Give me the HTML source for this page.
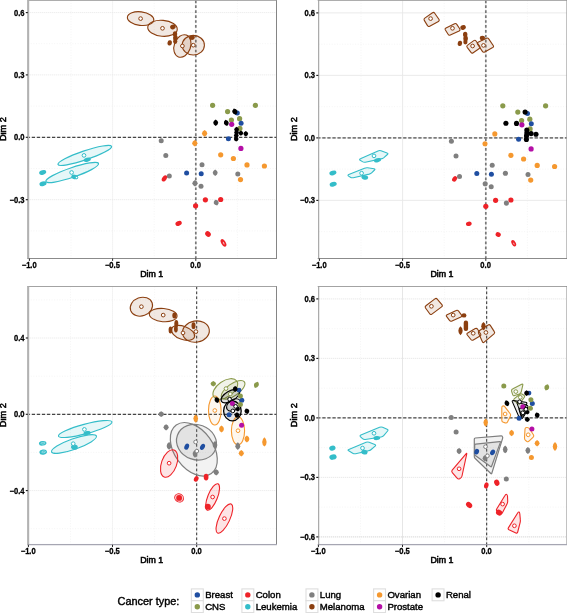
<!DOCTYPE html>
<html lang="en">
<head>
<meta charset="utf-8">
<title>Cancer type MDS panels</title>
<style>
html,body{margin:0;padding:0;background:#fff;}
body{width:567px;height:613px;overflow:hidden;}
svg{display:block;}
text{font-family:"Liberation Sans",Arial,Helvetica,sans-serif;fill:#000;}
.tk{font-weight:bold;stroke:#000;stroke-width:0.3px;}
.lb{stroke:#000;stroke-width:0.55px;}
.lg{stroke:#000;stroke-width:0.4px;}
</style>
</head>
<body>
<svg width="567" height="613" viewBox="0 0 567 613">
<rect x="0" y="0" width="567" height="613" fill="#fff"/>
<g id="panel1">
<rect x="28.2" y="0.4" width="248.3" height="257.95000000000005" fill="#fff"/>
<path d="M71.0 0.4V258.35M154.2 0.4V258.35M237.4 0.4V258.35M28.2 43.7H276.5M28.2 106.1H276.5M28.2 168.5H276.5M28.2 230.9H276.5" stroke="#f2f2f2" stroke-width="0.8" fill="none" stroke-dasharray="1 1.6"/>
<path d="M112.6 0.4V258.35M195.8 0.4V258.35M28.2 12.6H276.5M28.2 74.9H276.5M28.2 137.3H276.5M28.2 199.7H276.5" stroke="#e7e7e7" stroke-width="0.9" fill="none" stroke-dasharray="1.1 0.9"/>
</g>
<path d="M28.2 137.3H276.5" stroke="#1a1a1a" stroke-width="1.0" stroke-dasharray="3.3 1.755" stroke-dashoffset="1.49" fill="none"/>
<path d="M195.8 0.4V258.35" stroke="#787878" stroke-width="1.7" stroke-dasharray="2.7 2.220" stroke-dashoffset="4.87" fill="none"/>
<ellipse cx="84.8" cy="155.4" rx="28.3" ry="4.5" fill="#34bdc9" fill-opacity="0.12" stroke="#34bdc9" stroke-width="1.2" transform="rotate(-18.7 84.8 155.4)"/>
<ellipse cx="72.2" cy="172.5" rx="27.8" ry="4.8" fill="#34bdc9" fill-opacity="0.12" stroke="#34bdc9" stroke-width="1.2" transform="rotate(-18.8 72.2 172.5)"/>
<ellipse cx="140.6" cy="18.6" rx="13.3" ry="6.8" fill="#8b3f10" fill-opacity="0.12" stroke="#8b3f10" stroke-width="1.1" transform="rotate(7 140.6 18.6)"/>
<ellipse cx="162.5" cy="28.3" rx="14.8" ry="8.0" fill="#8b3f10" fill-opacity="0.12" stroke="#8b3f10" stroke-width="1.1" transform="rotate(5 162.5 28.3)"/>
<ellipse cx="182.4" cy="46.0" rx="11.6" ry="8.2" fill="#8b3f10" fill-opacity="0.12" stroke="#8b3f10" stroke-width="1.1" transform="rotate(-70 182.4 46.0)"/>
<ellipse cx="193.3" cy="45.2" rx="11.1" ry="9.8" fill="#8b3f10" fill-opacity="0.12" stroke="#8b3f10" stroke-width="1.1" transform="rotate(0 193.3 45.2)"/>
<ellipse cx="42.7" cy="172.5" rx="3.6" ry="2.2" fill="#34bdc9" transform="rotate(-15 42.7 172.5)"/>
<ellipse cx="43.0" cy="183.7" rx="3.6" ry="2.3" fill="#34bdc9" transform="rotate(-15 43.0 183.7)"/>
<ellipse cx="87.3" cy="159.8" rx="3.6" ry="2.0" fill="#34bdc9" transform="rotate(-15 87.3 159.8)"/>
<ellipse cx="74.6" cy="176.9" rx="3.4" ry="2.3" fill="#34bdc9" transform="rotate(10 74.6 176.9)"/>
<ellipse cx="172.9" cy="27.0" rx="2.8" ry="2.3" fill="#8b3f10" transform="rotate(-20 172.9 27.0)"/>
<ellipse cx="175.0" cy="34.0" rx="2.2" ry="2.8" fill="#8b3f10" transform="rotate(0 175.0 34.0)"/>
<ellipse cx="175.4" cy="38.0" rx="2.3" ry="3.0" fill="#8b3f10" transform="rotate(0 175.4 38.0)"/>
<ellipse cx="175.2" cy="41.5" rx="2.1" ry="2.4" fill="#8b3f10" transform="rotate(0 175.2 41.5)"/>
<ellipse cx="169.7" cy="42.9" rx="2.2" ry="2.7" fill="#8b3f10" transform="rotate(10 169.7 42.9)"/>
<ellipse cx="192.2" cy="37.6" rx="2.6" ry="2.3" fill="#8b3f10" transform="rotate(0 192.2 37.6)"/>
<circle cx="212.6" cy="105.3" r="2.6" fill="#8a9a4b"/>
<circle cx="255.4" cy="105.3" r="2.6" fill="#8a9a4b"/>
<circle cx="227.6" cy="111.6" r="2.6" fill="#8a9a4b"/>
<circle cx="231.4" cy="120.1" r="2.6" fill="#8a9a4b"/>
<circle cx="239.6" cy="118.7" r="2.6" fill="#8a9a4b"/>
<circle cx="239.9" cy="128.4" r="2.6" fill="#8a9a4b"/>
<circle cx="237.3" cy="113.1" r="2.5" fill="#1f4ea1"/>
<circle cx="241.1" cy="123.2" r="2.5" fill="#1f4ea1"/>
<circle cx="228.4" cy="138.7" r="2.5" fill="#1f4ea1"/>
<circle cx="186.6" cy="173.0" r="2.5" fill="#1f4ea1"/>
<circle cx="201.2" cy="173.7" r="2.5" fill="#1f4ea1"/>
<circle cx="231.7" cy="124.3" r="2.6" fill="#b40fa6"/>
<circle cx="240.9" cy="148.4" r="2.6" fill="#b40fa6"/>
<path d="M232.35 111.60Q232.35 109.55 234.90 108.30Q237.45 109.55 237.45 111.60Q237.45 113.65 234.90 114.90Q232.35 113.65 232.35 111.60Z" fill="#000000" transform="rotate(-20 234.9 111.6)"/>
<path d="M213.25 122.70Q213.25 120.72 215.70 119.50Q218.15 120.72 218.15 122.70Q218.15 124.68 215.70 125.90Q213.25 124.68 213.25 122.70Z" fill="#000000"/>
<path d="M223.85 122.90Q223.85 120.92 226.30 119.70Q228.75 120.92 228.75 122.90Q228.75 124.88 226.30 126.10Q223.85 124.88 223.85 122.90Z" fill="#000000" transform="rotate(-15 226.3 122.9)"/>
<path d="M234.25 129.50Q234.25 127.83 236.60 126.80Q238.95 127.83 238.95 129.50Q238.95 131.17 236.60 132.20Q234.25 131.17 234.25 129.50Z" fill="#000000"/>
<path d="M234.25 132.50Q234.25 130.83 236.60 129.80Q238.95 130.83 238.95 132.50Q238.95 134.17 236.60 135.20Q234.25 134.17 234.25 132.50Z" fill="#000000"/>
<path d="M238.55 133.10Q238.55 131.43 240.90 130.40Q243.25 131.43 243.25 133.10Q243.25 134.77 240.90 135.80Q238.55 134.77 238.55 133.10Z" fill="#000000"/>
<path d="M243.45 133.80Q243.45 132.13 245.80 131.10Q248.15 132.13 248.15 133.80Q248.15 135.47 245.80 136.50Q243.45 135.47 243.45 133.80Z" fill="#000000"/>
<path d="M233.95 135.40Q233.95 133.73 236.30 132.70Q238.65 133.73 238.65 135.40Q238.65 137.07 236.30 138.10Q233.95 137.07 233.95 135.40Z" fill="#000000"/>
<path d="M233.85 138.90Q233.85 137.23 236.20 136.20Q238.55 137.23 238.55 138.90Q238.55 140.57 236.20 141.60Q233.85 140.57 233.85 138.90Z" fill="#000000"/>
<path d="M201.95 133.40Q201.95 131.35 204.60 130.10Q207.25 131.35 207.25 133.40Q207.25 135.45 204.60 136.70Q201.95 135.45 201.95 133.40Z" fill="#f5982f"/>
<path d="M192.15 143.20Q192.15 141.15 194.80 139.90Q197.45 141.15 197.45 143.20Q197.45 145.25 194.80 146.50Q192.15 145.25 192.15 143.20Z" fill="#f5982f"/>
<circle cx="220.7" cy="154.8" r="2.6" fill="#f5982f"/>
<circle cx="233.4" cy="158.5" r="2.6" fill="#f5982f"/>
<circle cx="247.0" cy="164.9" r="2.6" fill="#f5982f"/>
<circle cx="264.4" cy="166.0" r="2.6" fill="#f5982f"/>
<circle cx="240.5" cy="179.6" r="2.6" fill="#f5982f"/>
<circle cx="161.2" cy="140.7" r="2.5" fill="#7f7f7f"/>
<circle cx="165.8" cy="155.4" r="2.5" fill="#7f7f7f"/>
<circle cx="169.3" cy="176.1" r="2.5" fill="#7f7f7f"/>
<circle cx="202.0" cy="164.8" r="2.5" fill="#7f7f7f"/>
<circle cx="201.0" cy="186.2" r="2.5" fill="#7f7f7f"/>
<circle cx="237.8" cy="173.9" r="2.5" fill="#7f7f7f"/>
<path d="M212.75 172.80Q212.75 170.75 215.20 169.50Q217.65 170.75 217.65 172.80Q217.65 174.85 215.20 176.10Q212.75 174.85 212.75 172.80Z" fill="#7f7f7f"/>
<path d="M192.35 183.20Q192.35 181.15 195.00 179.90Q197.65 181.15 197.65 183.20Q197.65 185.25 195.00 186.50Q192.35 185.25 192.35 183.20Z" fill="#7f7f7f"/>
<path d="M213.65 202.60Q213.65 200.74 216.20 199.60Q218.75 200.74 218.75 202.60Q218.75 204.46 216.20 205.60Q213.65 204.46 213.65 202.60Z" fill="#7f7f7f" transform="rotate(-20 216.2 202.6)"/>
<circle cx="205.4" cy="199.8" r="2.6" fill="#ee2228"/>
<circle cx="220.7" cy="199.5" r="2.6" fill="#ee2228"/>
<circle cx="195.6" cy="205.8" r="2.6" fill="#ee2228"/>
<ellipse cx="164.4" cy="178.4" rx="3.4" ry="2.2" fill="#ee2228" transform="rotate(-55 164.4 178.4)"/>
<ellipse cx="178.6" cy="223.3" rx="3.3" ry="2.3" fill="#ee2228" transform="rotate(-25 178.6 223.3)"/>
<ellipse cx="208.0" cy="234.0" rx="3.0" ry="2.5" fill="#ee2228" transform="rotate(40 208.0 234.0)"/>
<ellipse cx="223.5" cy="242.8" rx="4.2" ry="2.2" fill="#ee2228" transform="rotate(60 223.5 242.8)"/>
<ellipse cx="223.7" cy="243.2" rx="1.6" ry="0.5" fill="#fff" fill-opacity="0.75" transform="rotate(60 223.7 243.2)"/>
<circle cx="84.0" cy="155.4" r="1.85" fill="#fff" stroke="#34bdc9" stroke-width="1"/>
<circle cx="71.6" cy="172.5" r="1.85" fill="#fff" stroke="#34bdc9" stroke-width="1"/>
<circle cx="76.6" cy="177.6" r="1.2" fill="#fff" stroke="#34bdc9" stroke-width="1"/>
<circle cx="140.6" cy="18.6" r="1.85" fill="#fff" stroke="#8b3f10" stroke-width="1"/>
<circle cx="162.5" cy="28.3" r="1.85" fill="#fff" stroke="#8b3f10" stroke-width="1"/>
<circle cx="182.4" cy="46.0" r="1.85" fill="#fff" stroke="#8b3f10" stroke-width="1"/>
<circle cx="193.3" cy="45.2" r="1.85" fill="#fff" stroke="#8b3f10" stroke-width="1"/>
<g id="frame1">
<rect x="27.2" y="-0.1" width="249.7" height="0.9" fill="#999"/>
<rect x="276.10" y="0.4" width="0.8" height="258.0" fill="#666"/>
<rect x="27.2" y="258.00" width="249.7" height="0.7" fill="#5a5a5a"/>
<rect x="27.1" y="0.4" width="2.1" height="258.0" fill="#b2b2b2"/>
<path d="M25.8 12.6H27.8" stroke="#111" stroke-width="1.1"/>
<text transform="translate(24.6 15.6) scale(0.885 1)" font-size="8.6" text-anchor="end" class="tk">0.6</text>
<path d="M25.8 74.9H27.8" stroke="#111" stroke-width="1.1"/>
<text transform="translate(24.6 77.9) scale(0.885 1)" font-size="8.6" text-anchor="end" class="tk">0.3</text>
<path d="M25.8 137.3H27.8" stroke="#111" stroke-width="1.1"/>
<text transform="translate(24.6 140.3) scale(0.885 1)" font-size="8.6" text-anchor="end" class="tk">0.0</text>
<path d="M25.8 199.7H27.8" stroke="#111" stroke-width="1.1"/>
<text transform="translate(24.6 202.7) scale(0.885 1)" font-size="8.6" text-anchor="end" class="tk">−0.3</text>
<path d="M29.4 258.6V260.9" stroke="#111" stroke-width="0.9"/>
<text transform="translate(29.2 267.6) scale(0.885 1)" font-size="8.6" text-anchor="middle" class="tk">−1.0</text>
<path d="M112.6 258.6V260.9" stroke="#111" stroke-width="0.9"/>
<text transform="translate(112.4 267.6) scale(0.885 1)" font-size="8.6" text-anchor="middle" class="tk">−0.5</text>
<path d="M195.8 258.6V260.9" stroke="#111" stroke-width="0.9"/>
<text transform="translate(195.6 267.6) scale(0.885 1)" font-size="8.6" text-anchor="middle" class="tk">0.0</text>
<text x="151.7" y="277.1" font-size="8.8" text-anchor="middle" class="lb">Dim 1</text>
<text transform="translate(6.4 129.1) rotate(-90)" font-size="9.2" text-anchor="middle" class="lb">Dim 2</text>
</g>
<g id="panel2">
<rect x="318.7" y="0.4" width="247.90000000000003" height="257.95000000000005" fill="#fff"/>
<path d="M361.0 0.4V258.35M444.2 0.4V258.35M527.4 0.4V258.35M318.7 44.2H566.6M318.7 106.7H566.6M318.7 169.1H566.6M318.7 231.6H566.6" stroke="#f2f2f2" stroke-width="0.8" fill="none" stroke-dasharray="1 1.6"/>
<path d="M402.6 0.4V258.35M485.8 0.4V258.35M318.7 12.9H566.6M318.7 75.4H566.6M318.7 137.9H566.6M318.7 200.4H566.6" stroke="#e8e8e8" stroke-width="0.9" fill="none"/>
</g>
<path d="M318.7 137.9H566.6" stroke="#7c7c7c" stroke-width="1.7" stroke-dasharray="3.3 1.755" stroke-dashoffset="1.49" fill="none"/>
<path d="M485.8 0.4V258.35" stroke="#787878" stroke-width="1.7" stroke-dasharray="2.7 2.220" stroke-dashoffset="4.87" fill="none"/>
<path d="M360.2 160.3Q358.9 159.4 360.4 158.8L378.0 150.9Q379.5 150.3 381.0 150.8L387.1 153.0Q388.6 153.5 387.4 154.5L383.9 157.6Q382.7 158.6 381.1 158.9L365.3 162.2Q363.7 162.5 362.4 161.6Z" fill="#34bdc9" fill-opacity="0.12" stroke="#34bdc9" stroke-width="1.1" stroke-linejoin="round"/>
<path d="M348.6 176.1Q347.3 175.2 348.8 174.6L364.5 168.2Q366.0 167.6 367.6 167.8L374.0 168.7Q375.6 168.9 374.5 170.0L371.9 172.6Q370.8 173.7 369.2 174.1L353.3 177.7Q351.7 178.1 350.4 177.2Z" fill="#34bdc9" fill-opacity="0.12" stroke="#34bdc9" stroke-width="1.1" stroke-linejoin="round"/>
<path d="M424.3 20.4Q423.5 19.0 424.8 18.1L432.5 12.8Q433.8 11.9 434.7 13.2L438.9 19.3Q439.8 20.6 438.4 21.4L429.7 26.2Q428.3 27.0 427.5 25.6Z" fill="#8b3f10" fill-opacity="0.12" stroke="#8b3f10" stroke-width="1.1" stroke-linejoin="round"/>
<path d="M445.4 30.0Q444.6 28.6 446.0 27.9L454.6 23.7Q456.0 23.0 456.8 24.4L459.7 28.8Q460.5 30.2 459.1 30.9L450.3 35.0Q448.9 35.7 448.1 34.3Z" fill="#8b3f10" fill-opacity="0.12" stroke="#8b3f10" stroke-width="1.1" stroke-linejoin="round"/>
<path d="M467.2 47.3Q466.3 46.0 467.6 45.1L473.8 40.6Q475.1 39.7 476.0 41.0L479.7 46.3Q480.6 47.6 479.3 48.5L473.2 52.8Q471.9 53.7 471.0 52.4Z" fill="#8b3f10" fill-opacity="0.12" stroke="#8b3f10" stroke-width="1.1" stroke-linejoin="round"/>
<path d="M477.6 44.2Q476.7 42.9 478.1 42.2L486.4 38.3Q487.8 37.6 488.7 38.9L493.2 45.5Q494.1 46.8 492.7 47.6L484.7 51.9Q483.3 52.7 482.4 51.4Z" fill="#8b3f10" fill-opacity="0.12" stroke="#8b3f10" stroke-width="1.1" stroke-linejoin="round"/>
<ellipse cx="332.9" cy="173.0" rx="3.6" ry="2.2" fill="#34bdc9" transform="rotate(-15 332.9 173.0)"/>
<ellipse cx="333.2" cy="184.2" rx="3.6" ry="2.3" fill="#34bdc9" transform="rotate(-15 333.2 184.2)"/>
<ellipse cx="377.5" cy="160.3" rx="3.6" ry="2.0" fill="#34bdc9" transform="rotate(-15 377.5 160.3)"/>
<ellipse cx="364.8" cy="177.4" rx="3.4" ry="2.3" fill="#34bdc9" transform="rotate(10 364.8 177.4)"/>
<ellipse cx="463.1" cy="27.5" rx="2.8" ry="2.3" fill="#8b3f10" transform="rotate(-20 463.1 27.5)"/>
<ellipse cx="465.2" cy="34.5" rx="2.2" ry="2.8" fill="#8b3f10" transform="rotate(0 465.2 34.5)"/>
<ellipse cx="465.6" cy="38.5" rx="2.3" ry="3.0" fill="#8b3f10" transform="rotate(0 465.6 38.5)"/>
<ellipse cx="465.4" cy="42.0" rx="2.1" ry="2.4" fill="#8b3f10" transform="rotate(0 465.4 42.0)"/>
<ellipse cx="459.9" cy="43.4" rx="2.2" ry="2.7" fill="#8b3f10" transform="rotate(10 459.9 43.4)"/>
<ellipse cx="482.4" cy="38.1" rx="2.6" ry="2.3" fill="#8b3f10" transform="rotate(0 482.4 38.1)"/>
<circle cx="502.8" cy="105.8" r="2.6" fill="#8a9a4b"/>
<circle cx="545.6" cy="105.8" r="2.6" fill="#8a9a4b"/>
<circle cx="517.8" cy="112.1" r="2.6" fill="#8a9a4b"/>
<circle cx="521.6" cy="120.6" r="2.6" fill="#8a9a4b"/>
<circle cx="529.8" cy="119.2" r="2.6" fill="#8a9a4b"/>
<circle cx="530.1" cy="128.9" r="2.6" fill="#8a9a4b"/>
<circle cx="527.5" cy="113.6" r="2.5" fill="#1f4ea1"/>
<circle cx="531.3" cy="123.7" r="2.5" fill="#1f4ea1"/>
<circle cx="518.6" cy="139.2" r="2.5" fill="#1f4ea1"/>
<circle cx="476.8" cy="173.5" r="2.5" fill="#1f4ea1"/>
<circle cx="491.4" cy="174.2" r="2.5" fill="#1f4ea1"/>
<circle cx="521.9" cy="124.8" r="2.6" fill="#b40fa6"/>
<circle cx="531.1" cy="148.9" r="2.6" fill="#b40fa6"/>
<circle cx="525.1" cy="112.1" r="2.55" fill="#000000"/>
<circle cx="505.9" cy="123.2" r="2.55" fill="#000000"/>
<circle cx="516.5" cy="123.4" r="2.55" fill="#000000"/>
<circle cx="526.8" cy="130.0" r="2.55" fill="#000000"/>
<circle cx="526.8" cy="133.0" r="2.55" fill="#000000"/>
<circle cx="531.1" cy="133.6" r="2.55" fill="#000000"/>
<circle cx="536.0" cy="134.3" r="2.55" fill="#000000"/>
<circle cx="526.5" cy="135.9" r="2.55" fill="#000000"/>
<circle cx="526.4" cy="139.4" r="2.55" fill="#000000"/>
<circle cx="494.8" cy="133.9" r="2.55" fill="#f5982f"/>
<circle cx="485.0" cy="143.7" r="2.55" fill="#f5982f"/>
<circle cx="510.9" cy="155.3" r="2.6" fill="#f5982f"/>
<circle cx="523.6" cy="159.0" r="2.6" fill="#f5982f"/>
<circle cx="537.2" cy="165.4" r="2.6" fill="#f5982f"/>
<circle cx="554.6" cy="166.5" r="2.6" fill="#f5982f"/>
<circle cx="530.7" cy="180.1" r="2.6" fill="#f5982f"/>
<circle cx="451.4" cy="141.2" r="2.5" fill="#7f7f7f"/>
<circle cx="456.0" cy="155.9" r="2.5" fill="#7f7f7f"/>
<circle cx="459.5" cy="176.6" r="2.5" fill="#7f7f7f"/>
<circle cx="492.2" cy="165.3" r="2.5" fill="#7f7f7f"/>
<circle cx="491.2" cy="186.7" r="2.5" fill="#7f7f7f"/>
<circle cx="528.0" cy="174.4" r="2.5" fill="#7f7f7f"/>
<circle cx="505.4" cy="173.3" r="2.55" fill="#7f7f7f"/>
<circle cx="485.2" cy="183.7" r="2.55" fill="#7f7f7f"/>
<circle cx="506.4" cy="203.1" r="2.55" fill="#7f7f7f"/>
<circle cx="495.6" cy="200.3" r="2.6" fill="#ee2228"/>
<circle cx="510.9" cy="200.0" r="2.6" fill="#ee2228"/>
<circle cx="485.8" cy="206.3" r="2.6" fill="#ee2228"/>
<ellipse cx="454.6" cy="178.9" rx="3.0" ry="2.2" fill="#ee2228" transform="rotate(-55 454.6 178.9)"/>
<ellipse cx="468.8" cy="223.8" rx="2.9" ry="2.2" fill="#ee2228" transform="rotate(-15 468.8 223.8)"/>
<ellipse cx="498.2" cy="234.5" rx="2.7" ry="2.3" fill="#ee2228" transform="rotate(30 498.2 234.5)"/>
<ellipse cx="513.7" cy="243.3" rx="3.4" ry="2.0" fill="#ee2228" transform="rotate(60 513.7 243.3)"/>
<ellipse cx="513.9" cy="243.7" rx="1.2" ry="0.45" fill="#fff" fill-opacity="0.7" transform="rotate(60 513.9 243.7)"/>
<circle cx="374.0" cy="155.9" r="1.85" fill="#fff" stroke="#34bdc9" stroke-width="1"/>
<circle cx="361.6" cy="173.2" r="1.85" fill="#fff" stroke="#34bdc9" stroke-width="1"/>
<circle cx="430.6" cy="18.6" r="1.85" fill="#fff" stroke="#8b3f10" stroke-width="1"/>
<circle cx="452.5" cy="28.3" r="1.85" fill="#fff" stroke="#8b3f10" stroke-width="1"/>
<circle cx="472.6" cy="46.0" r="1.85" fill="#fff" stroke="#8b3f10" stroke-width="1"/>
<circle cx="483.5" cy="45.4" r="1.85" fill="#fff" stroke="#8b3f10" stroke-width="1"/>
<g id="frame2">
<rect x="317.7" y="-0.1" width="249.3" height="0.9" fill="#999"/>
<rect x="566.55" y="0.4" width="0.8" height="258.0" fill="#777"/>
<rect x="317.7" y="258.00" width="249.3" height="0.7" fill="#5a5a5a"/>
<rect x="318.2" y="0.4" width="1" height="258.0" fill="#979797"/>
<path d="M316.3 12.9H318.3" stroke="#111" stroke-width="1.1"/>
<text transform="translate(315.1 15.9) scale(0.885 1)" font-size="8.6" text-anchor="end" class="tk">0.6</text>
<path d="M316.3 75.4H318.3" stroke="#111" stroke-width="1.1"/>
<text transform="translate(315.1 78.4) scale(0.885 1)" font-size="8.6" text-anchor="end" class="tk">0.3</text>
<path d="M316.3 137.9H318.3" stroke="#111" stroke-width="1.1"/>
<text transform="translate(315.1 140.9) scale(0.885 1)" font-size="8.6" text-anchor="end" class="tk">0.0</text>
<path d="M316.3 200.4H318.3" stroke="#111" stroke-width="1.1"/>
<text transform="translate(315.1 203.4) scale(0.885 1)" font-size="8.6" text-anchor="end" class="tk">−0.3</text>
<path d="M319.4 258.6V260.9" stroke="#111" stroke-width="0.9"/>
<text transform="translate(319.2 267.6) scale(0.885 1)" font-size="8.6" text-anchor="middle" class="tk">−1.0</text>
<path d="M402.6 258.6V260.9" stroke="#111" stroke-width="0.9"/>
<text transform="translate(402.4 267.6) scale(0.885 1)" font-size="8.6" text-anchor="middle" class="tk">−0.5</text>
<path d="M485.8 258.6V260.9" stroke="#111" stroke-width="0.9"/>
<text transform="translate(485.6 267.6) scale(0.885 1)" font-size="8.6" text-anchor="middle" class="tk">0.0</text>
<text x="441.9" y="277.1" font-size="8.8" text-anchor="middle" class="lb">Dim 1</text>
<text transform="translate(296.9 129.1) rotate(-90)" font-size="9.2" text-anchor="middle" class="lb">Dim 2</text>
</g>
<g id="panel3">
<rect x="28.2" y="286.5" width="248.3" height="258.1" fill="#fff"/>
<path d="M70.5 286.5V544.6M154.6 286.5V544.6M238.8 286.5V544.6M28.2 299.9H276.5M28.2 376.2H276.5M28.2 452.4H276.5M28.2 528.7H276.5" stroke="#f2f2f2" stroke-width="0.8" fill="none" stroke-dasharray="1 1.6"/>
<path d="M112.5 286.5V544.6M196.7 286.5V544.6M28.2 338.0H276.5M28.2 414.3H276.5M28.2 490.6H276.5" stroke="#e7e7e7" stroke-width="0.9" fill="none" stroke-dasharray="1.1 0.9"/>
</g>
<path d="M28.2 414.3H276.5" stroke="#1a1a1a" stroke-width="1.0" stroke-dasharray="3.3 1.755" stroke-dashoffset="1.49" fill="none"/>
<path d="M196.7 286.5V544.6" stroke="#1a1a1a" stroke-width="0.9" stroke-dasharray="2.7 2.220" stroke-dashoffset="4.87" fill="none"/>
<ellipse cx="85.2" cy="429.0" rx="27.7" ry="4.8" fill="#34bdc9" fill-opacity="0.12" stroke="#34bdc9" stroke-width="1.1" transform="rotate(-15 85.2 429.0)"/>
<ellipse cx="74.0" cy="444.0" rx="23.8" ry="5.3" fill="#34bdc9" fill-opacity="0.12" stroke="#34bdc9" stroke-width="1.1" transform="rotate(-19.5 74.0 444.0)"/>
<ellipse cx="42.7" cy="443.3" rx="3.8" ry="2.3" fill="#34bdc9" transform="rotate(-8 42.7 443.3)"/>
<ellipse cx="43.2" cy="452.1" rx="3.8" ry="2.6" fill="#34bdc9" transform="rotate(-8 43.2 452.1)"/>
<ellipse cx="43.0" cy="443.2" rx="2.0" ry="0.9" fill="none" stroke="#fff" stroke-opacity="0.8" stroke-width="0.5" transform="rotate(-8 43.0 443.2)"/>
<ellipse cx="43.6" cy="451.9" rx="2.0" ry="0.9" fill="none" stroke="#fff" stroke-opacity="0.8" stroke-width="0.5" transform="rotate(-8 43.6 451.9)"/>
<ellipse cx="87.1" cy="433.0" rx="3.6" ry="2.0" fill="#34bdc9" transform="rotate(-10 87.1 433.0)"/>
<ellipse cx="74.4" cy="447.1" rx="3.4" ry="2.6" fill="#34bdc9" transform="rotate(10 74.4 447.1)"/>
<ellipse cx="141.4" cy="306.7" rx="11.4" ry="9.2" fill="#8b3f10" fill-opacity="0.12" stroke="#8b3f10" stroke-width="1.1" transform="rotate(-20 141.4 306.7)"/>
<ellipse cx="163.2" cy="315.1" rx="13.9" ry="6.6" fill="#8b3f10" fill-opacity="0.12" stroke="#8b3f10" stroke-width="1.1" transform="rotate(5 163.2 315.1)"/>
<ellipse cx="183.0" cy="332.9" rx="12.2" ry="6.6" fill="#8b3f10" fill-opacity="0.12" stroke="#8b3f10" stroke-width="1.1" transform="rotate(20 183.0 332.9)"/>
<ellipse cx="195.9" cy="331.6" rx="13.5" ry="10.6" fill="#8b3f10" fill-opacity="0.12" stroke="#8b3f10" stroke-width="1.1" transform="rotate(-10 195.9 331.6)"/>
<ellipse cx="174.4" cy="315.4" rx="2.1" ry="3.0" fill="#8b3f10" transform="rotate(0 174.4 315.4)"/>
<ellipse cx="176.3" cy="323.7" rx="2.0" ry="3.8" fill="#8b3f10" transform="rotate(0 176.3 323.7)"/>
<ellipse cx="175.9" cy="329.0" rx="1.9" ry="3.4" fill="#8b3f10" transform="rotate(0 175.9 329.0)"/>
<ellipse cx="170.5" cy="330.0" rx="1.9" ry="3.6" fill="#8b3f10" transform="rotate(0 170.5 330.0)"/>
<ellipse cx="193.5" cy="325.7" rx="2.0" ry="3.4" fill="#8b3f10" transform="rotate(0 193.5 325.7)"/>
<ellipse cx="193.8" cy="449.3" rx="29.9" ry="19.3" fill="#7f7f7f" fill-opacity="0.1" stroke="#7f7f7f" stroke-width="1.2" transform="rotate(54 193.8 449.3)"/>
<ellipse cx="196.5" cy="442.2" rx="20.3" ry="17.5" fill="#7f7f7f" fill-opacity="0.12" stroke="#7f7f7f" stroke-width="1.2" transform="rotate(20 196.5 442.2)"/>
<ellipse cx="169.1" cy="463.5" rx="14.3" ry="7.6" fill="#ee2228" fill-opacity="0.12" stroke="#ee2228" stroke-width="1.1" transform="rotate(-70 169.1 463.5)"/>
<ellipse cx="212.6" cy="497.0" rx="14.2" ry="4.8" fill="#ee2228" fill-opacity="0.12" stroke="#ee2228" stroke-width="1.1" transform="rotate(-68 212.6 497.0)"/>
<ellipse cx="224.4" cy="518.6" rx="16.0" ry="5.4" fill="#ee2228" fill-opacity="0.12" stroke="#ee2228" stroke-width="1.1" transform="rotate(-65 224.4 518.6)"/>
<ellipse cx="179.1" cy="497.9" rx="4.6" ry="4.0" fill="#ee2228" fill-opacity="0.25" stroke="#ee2228" stroke-width="0.9" transform="rotate(30 179.1 497.9)"/>
<ellipse cx="214.8" cy="410.5" rx="6.3" ry="14.5" fill="#f5982f" fill-opacity="0.08" stroke="#f5982f" stroke-width="1.1" transform="rotate(0 214.8 410.5)"/>
<ellipse cx="238.0" cy="430.8" rx="6.6" ry="14.0" fill="#f5982f" fill-opacity="0.08" stroke="#f5982f" stroke-width="1.1" transform="rotate(0 238.0 430.8)"/>
<ellipse cx="225.3" cy="389.0" rx="14.0" ry="8.0" fill="#8a9a4b" fill-opacity="0.12" stroke="#8a9a4b" stroke-width="1.1" transform="rotate(-35 225.3 389.0)"/>
<ellipse cx="233.1" cy="389.8" rx="13.8" ry="6.0" fill="#8a9a4b" fill-opacity="0.12" stroke="#8a9a4b" stroke-width="1.1" transform="rotate(-35 233.1 389.8)"/>
<ellipse cx="230.3" cy="396.1" rx="10.3" ry="5.0" fill="#000000" fill-opacity="0.13" stroke="#000000" stroke-width="1.2" transform="rotate(-30 230.3 396.1)"/>
<ellipse cx="232.4" cy="410.9" rx="8.8" ry="9.9" fill="#000000" fill-opacity="0.1" stroke="#000000" stroke-width="1.3" transform="rotate(0 232.4 410.9)"/>
<ellipse cx="233.6" cy="405.0" rx="7.8" ry="5.2" fill="#000000" fill-opacity="0.1" stroke="#000000" stroke-width="1.0" transform="rotate(-35 233.6 405.0)"/>
<path d="M158.45 414.10Q158.45 412.30 161.20 411.20Q163.95 412.30 163.95 414.10Q163.95 415.90 161.20 417.00Q158.45 415.90 158.45 414.10Z" fill="#7f7f7f"/>
<path d="M163.55 427.30Q163.55 425.38 166.10 424.20Q168.65 425.38 168.65 427.30Q168.65 429.22 166.10 430.40Q163.55 429.22 163.55 427.30Z" fill="#7f7f7f"/>
<path d="M166.65 445.90Q166.65 443.48 169.10 442.00Q171.55 443.48 171.55 445.90Q171.55 448.32 169.10 449.80Q166.65 448.32 166.65 445.90Z" fill="#7f7f7f"/>
<path d="M212.65 445.00Q212.65 442.46 215.00 440.90Q217.35 442.46 217.35 445.00Q217.35 447.54 215.00 449.10Q212.65 447.54 212.65 445.00Z" fill="#7f7f7f"/>
<path d="M192.65 453.80Q192.65 451.38 195.00 449.90Q197.35 451.38 197.35 453.80Q197.35 456.22 195.00 457.70Q192.65 456.22 192.65 453.80Z" fill="#7f7f7f"/>
<path d="M213.55 472.30Q213.55 470.38 216.20 469.20Q218.85 470.38 218.85 472.30Q218.85 474.22 216.20 475.40Q213.55 474.22 213.55 472.30Z" fill="#7f7f7f"/>
<path d="M235.35 446.20Q235.35 443.78 237.80 442.30Q240.25 443.78 240.25 446.20Q240.25 448.62 237.80 450.10Q235.35 448.62 235.35 446.20Z" fill="#7f7f7f"/>
<ellipse cx="186.7" cy="446.7" rx="2.2" ry="3.2" fill="#1f4ea1" transform="rotate(25 186.7 446.7)"/>
<ellipse cx="202.5" cy="446.9" rx="2.2" ry="3.3" fill="#1f4ea1" transform="rotate(30 202.5 446.9)"/>
<circle cx="239.0" cy="390.2" r="2.4" fill="#1f4ea1"/>
<circle cx="241.8" cy="400.3" r="2.5" fill="#1f4ea1"/>
<circle cx="229.1" cy="414.7" r="2.5" fill="#1f4ea1"/>
<ellipse cx="196.2" cy="478.9" rx="2.2" ry="3.0" fill="#ee2228" transform="rotate(25 196.2 478.9)"/>
<ellipse cx="206.1" cy="477.1" rx="2.4" ry="3.4" fill="#ee2228" transform="rotate(0 206.1 477.1)"/>
<circle cx="179.1" cy="497.9" r="2.9" fill="#ee2228"/>
<circle cx="207.8" cy="506.7" r="3.0" fill="#ee2228"/>
<path d="M193.35 418.60Q193.35 416.06 195.70 414.50Q198.05 416.06 198.05 418.60Q198.05 421.14 195.70 422.70Q193.35 421.14 193.35 418.60Z" fill="#f5982f"/>
<path d="M219.05 429.10Q219.05 426.93 221.50 425.60Q223.95 426.93 223.95 429.10Q223.95 431.27 221.50 432.60Q219.05 431.27 219.05 429.10Z" fill="#f5982f"/>
<path d="M244.45 439.00Q244.45 436.83 246.90 435.50Q249.35 436.83 249.35 439.00Q249.35 441.17 246.90 442.50Q244.45 441.17 244.45 439.00Z" fill="#f5982f"/>
<path d="M262.15 441.90Q262.15 438.99 264.40 437.20Q266.65 438.99 266.65 441.90Q266.65 444.81 264.40 446.60Q262.15 444.81 262.15 441.90Z" fill="#f5982f"/>
<path d="M238.75 453.20Q238.75 451.15 241.30 449.90Q243.85 451.15 243.85 453.20Q243.85 455.25 241.30 456.50Q238.75 455.25 238.75 453.20Z" fill="#f5982f"/>
<path d="M210.55 383.70Q210.55 382.03 213.30 381.00Q216.05 382.03 216.05 383.70Q216.05 385.37 213.30 386.40Q210.55 385.37 210.55 383.70Z" fill="#8a9a4b"/>
<path d="M254.05 384.80Q254.05 382.63 256.40 381.30Q258.75 382.63 258.75 384.80Q258.75 386.97 256.40 388.30Q254.05 386.97 254.05 384.80Z" fill="#8a9a4b" transform="rotate(25 256.4 384.8)"/>
<circle cx="240.4" cy="396.1" r="2.5" fill="#8a9a4b"/>
<circle cx="240.4" cy="404.6" r="2.5" fill="#8a9a4b"/>
<path d="M232.75 389.00Q232.75 387.08 235.20 385.90Q237.65 387.08 237.65 389.00Q237.65 390.92 235.20 392.10Q232.75 390.92 232.75 389.00Z" fill="#000000"/>
<path d="M214.55 399.90Q214.55 397.92 216.90 396.70Q219.25 397.92 219.25 399.90Q219.25 401.88 216.90 403.10Q214.55 401.88 214.55 399.90Z" fill="#000000" transform="rotate(-20 216.9 399.9)"/>
<path d="M244.45 411.20Q244.45 409.40 246.90 408.30Q249.35 409.40 249.35 411.20Q249.35 413.00 246.90 414.10Q244.45 413.00 244.45 411.20Z" fill="#000000" transform="rotate(-20 246.9 411.2)"/>
<path d="M234.55 415.10Q234.55 413.30 237.00 412.20Q239.45 413.30 239.45 415.10Q239.45 416.90 237.00 418.00Q234.55 416.90 234.55 415.10Z" fill="#000000"/>
<path d="M235.65 409.00Q235.65 407.45 237.80 406.50Q239.95 407.45 239.95 409.00Q239.95 410.55 237.80 411.50Q235.65 410.55 235.65 409.00Z" fill="#000000"/>
<circle cx="232.4" cy="403.6" r="2.5" fill="#b40fa6"/>
<circle cx="241.6" cy="425.3" r="2.5" fill="#b40fa6"/>
<circle cx="84.4" cy="429.4" r="1.85" fill="#fff" stroke="#34bdc9" stroke-width="1"/>
<circle cx="73.2" cy="443.7" r="1.85" fill="#fff" stroke="#34bdc9" stroke-width="1"/>
<circle cx="141.4" cy="306.7" r="1.85" fill="#fff" stroke="#8b3f10" stroke-width="1"/>
<circle cx="163.2" cy="315.1" r="1.85" fill="#fff" stroke="#8b3f10" stroke-width="1"/>
<circle cx="183.0" cy="332.9" r="1.85" fill="#fff" stroke="#8b3f10" stroke-width="1"/>
<circle cx="195.9" cy="331.6" r="1.85" fill="#fff" stroke="#8b3f10" stroke-width="1"/>
<circle cx="195.6" cy="442.0" r="1.85" fill="#fff" stroke="#7f7f7f" stroke-width="1"/>
<circle cx="196.8" cy="451.1" r="1.85" fill="#fff" stroke="#7f7f7f" stroke-width="1"/>
<circle cx="169.1" cy="463.2" r="1.85" fill="#fff" stroke="#ee2228" stroke-width="1"/>
<circle cx="212.6" cy="497.0" r="1.85" fill="#fff" stroke="#ee2228" stroke-width="1"/>
<circle cx="224.4" cy="518.6" r="1.85" fill="#fff" stroke="#ee2228" stroke-width="1"/>
<circle cx="214.8" cy="410.5" r="1.85" fill="#fff" stroke="#f5982f" stroke-width="1"/>
<circle cx="238.0" cy="430.7" r="1.85" fill="#fff" stroke="#f5982f" stroke-width="1"/>
<circle cx="226.0" cy="388.6" r="1.85" fill="#fff" stroke="#8a9a4b" stroke-width="1"/>
<circle cx="230.3" cy="394.0" r="1.85" fill="#fff" stroke="#8a9a4b" stroke-width="1"/>
<circle cx="229.6" cy="399.2" r="1.85" fill="#fff" stroke="#000000" stroke-width="1"/>
<circle cx="235.6" cy="406.4" r="1.85" fill="#fff" stroke="#000000" stroke-width="1"/>
<circle cx="232.8" cy="410.9" r="1.85" fill="#fff" stroke="#000000" stroke-width="1"/>
<g id="frame3">
<rect x="27.2" y="286.0" width="249.7" height="0.9" fill="#999"/>
<rect x="276.10" y="286.5" width="0.8" height="258.1" fill="#666"/>
<rect x="27.2" y="543.98" width="249.7" height="1.25" fill="#a6a6b2"/>
<rect x="27.1" y="286.5" width="2.1" height="258.1" fill="#b2b2b2"/>
<path d="M25.8 338.0H27.8" stroke="#111" stroke-width="1.1"/>
<text transform="translate(24.6 341.0) scale(0.885 1)" font-size="8.6" text-anchor="end" class="tk">0.4</text>
<path d="M25.8 414.3H27.8" stroke="#111" stroke-width="1.1"/>
<text transform="translate(24.6 417.3) scale(0.885 1)" font-size="8.6" text-anchor="end" class="tk">0.0</text>
<path d="M25.8 490.6H27.8" stroke="#111" stroke-width="1.1"/>
<text transform="translate(24.6 493.6) scale(0.885 1)" font-size="8.6" text-anchor="end" class="tk">−0.4</text>
<path d="M28.4 544.8V547.1" stroke="#111" stroke-width="0.9"/>
<text transform="translate(28.2 553.8) scale(0.885 1)" font-size="8.6" text-anchor="middle" class="tk">−1.0</text>
<path d="M112.5 544.8V547.1" stroke="#111" stroke-width="0.9"/>
<text transform="translate(112.3 553.8) scale(0.885 1)" font-size="8.6" text-anchor="middle" class="tk">−0.5</text>
<path d="M196.7 544.8V547.1" stroke="#111" stroke-width="0.9"/>
<text transform="translate(196.5 553.8) scale(0.885 1)" font-size="8.6" text-anchor="middle" class="tk">0.0</text>
<text x="151.7" y="563.3" font-size="8.8" text-anchor="middle" class="lb">Dim 1</text>
<text transform="translate(6.4 415.2) rotate(-90)" font-size="9.2" text-anchor="middle" class="lb">Dim 2</text>
</g>
<g id="panel4">
<rect x="318.7" y="286.5" width="247.90000000000003" height="258.1" fill="#fff"/>
<path d="M360.5 286.5V544.6M444.6 286.5V544.6M528.8 286.5V544.6M318.7 328.7H566.6M318.7 388.2H566.6M318.7 447.6H566.6M318.7 507.1H566.6" stroke="#f2f2f2" stroke-width="0.8" fill="none" stroke-dasharray="1 1.6"/>
<path d="M402.5 286.5V544.6M486.7 286.5V544.6" stroke="#e3e3e3" stroke-width="0.9" fill="none"/>
<path d="M318.7 298.9H566.6M318.7 358.4H566.6M318.7 417.9H566.6M318.7 477.4H566.6" stroke="#e6e6e6" stroke-width="0.9" fill="none" stroke-dasharray="1.3 0.7"/>
<path d="M318.7 536.9H566.6" stroke="#d4d4d4" stroke-width="0.9" fill="none" stroke-dasharray="1.3 0.7"/>
</g>
<path d="M318.7 417.9H566.6" stroke="#1a1a1a" stroke-width="1.0" stroke-dasharray="3.3 1.755" stroke-dashoffset="1.49" fill="none"/>
<path d="M486.7 286.5V544.6" stroke="#1a1a1a" stroke-width="0.9" stroke-dasharray="2.7 2.220" stroke-dashoffset="4.87" fill="none"/>
<path d="M360.6 436.8Q359.4 435.7 360.9 435.1L379.6 427.3Q381.1 426.7 382.6 427.3L387.1 429.2Q388.6 429.8 387.6 431.0L383.7 435.6Q382.7 436.8 381.1 437.0L365.3 439.5Q363.7 439.7 362.5 438.6Z" fill="#34bdc9" fill-opacity="0.12" stroke="#34bdc9" stroke-width="1.1" stroke-linejoin="round"/>
<path d="M348.7 450.8Q347.3 450.0 348.8 449.4L366.1 442.3Q367.6 441.7 369.1 442.3L374.8 444.6Q376.3 445.2 375.1 446.2L371.2 449.5Q370.0 450.5 368.4 450.8L355.7 453.7Q354.1 454.0 352.7 453.2Z" fill="#34bdc9" fill-opacity="0.12" stroke="#34bdc9" stroke-width="1.1" stroke-linejoin="round"/>
<ellipse cx="332.4" cy="448.1" rx="3.2" ry="2.5" fill="#34bdc9" transform="rotate(-15 332.4 448.1)"/>
<ellipse cx="333.0" cy="457.1" rx="3.7" ry="2.6" fill="#34bdc9" transform="rotate(-15 333.0 457.1)"/>
<ellipse cx="376.8" cy="438.1" rx="3.4" ry="2.0" fill="#34bdc9" transform="rotate(-5 376.8 438.1)"/>
<ellipse cx="364.4" cy="452.1" rx="3.2" ry="2.4" fill="#34bdc9" transform="rotate(10 364.4 452.1)"/>
<path d="M425.5 308.0Q424.6 306.7 425.9 305.7L434.9 298.9Q436.2 297.9 437.2 299.1L441.9 304.7Q442.9 305.9 441.6 306.9L431.9 314.1Q430.6 315.1 429.7 313.8Z" fill="#8b3f10" fill-opacity="0.12" stroke="#8b3f10" stroke-width="1.1" stroke-linejoin="round"/>
<path d="M446.7 316.7Q445.7 315.4 447.1 314.7L456.2 310.5Q457.6 309.8 458.6 311.1L461.4 314.9Q462.4 316.2 460.9 316.9L452.0 321.0Q450.5 321.7 449.5 320.4Z" fill="#8b3f10" fill-opacity="0.12" stroke="#8b3f10" stroke-width="1.1" stroke-linejoin="round"/>
<path d="M467.3 335.0Q466.3 333.7 467.7 332.9L475.3 328.6Q476.7 327.8 477.6 329.2L480.5 333.8Q481.4 335.2 480.0 336.0L473.3 340.0Q471.9 340.8 470.9 339.5Z" fill="#8b3f10" fill-opacity="0.12" stroke="#8b3f10" stroke-width="1.1" stroke-linejoin="round"/>
<path d="M478.5 333.1Q477.9 331.6 479.2 330.7L488.1 325.0Q489.4 324.1 490.3 325.4L494.3 331.6Q495.2 332.9 494.0 333.9L484.2 342.2Q483.0 343.2 482.4 341.7Z" fill="#8b3f10" fill-opacity="0.12" stroke="#8b3f10" stroke-width="1.1" stroke-linejoin="round"/>
<ellipse cx="464.0" cy="315.4" rx="2.4" ry="2.2" fill="#8b3f10" transform="rotate(0 464.0 315.4)"/>
<rect x="463.7" y="320.6" width="4.4" height="10.4" rx="2.1" fill="#8b3f10"/>
<path d="M458.35 330.80Q458.35 328.01 460.50 326.30Q462.65 328.01 462.65 330.80Q462.65 333.59 460.50 335.30Q458.35 333.59 458.35 330.80Z" fill="#8b3f10"/>
<path d="M481.25 326.20Q481.25 323.66 483.50 322.10Q485.75 323.66 485.75 326.20Q485.75 328.74 483.50 330.30Q481.25 328.74 481.25 326.20Z" fill="#8b3f10"/>
<path d="M474.3 439.1Q474.3 438.1 475.3 438.0L501.0 435.9Q502.0 435.8 502.4 436.5L502.5 436.7Q502.9 437.4 502.6 438.4L491.8 473.2Q491.5 474.2 490.8 473.5L475.0 458.2Q474.3 457.5 474.3 456.5Z" fill="#7f7f7f" fill-opacity="0.1" stroke="#7f7f7f" stroke-width="1.2" stroke-linejoin="round"/>
<path d="M474.7 445.3Q474.7 444.3 475.7 444.2L499.7 441.6Q500.7 441.5 500.4 442.4L491.6 466.3Q491.3 467.2 490.5 466.6L475.3 455.5Q474.5 454.9 474.5 453.9Z" fill="#7f7f7f" fill-opacity="0.12" stroke="#7f7f7f" stroke-width="1.2" stroke-linejoin="round"/>
<path d="M466.0 453.8Q467.0 452.6 466.7 454.2L462.0 476.0Q461.7 477.6 460.3 478.3L459.6 478.7Q458.2 479.4 457.1 478.2L452.3 472.6Q451.2 471.4 452.2 470.2Z" fill="#ee2228" fill-opacity="0.12" stroke="#ee2228" stroke-width="1.1" stroke-linejoin="round"/>
<path d="M504.8 495.7Q505.6 494.3 506.4 494.4L506.6 494.5Q507.4 494.6 507.5 496.2L507.7 501.0Q507.8 502.6 507.0 504.0L502.4 512.8Q501.6 514.2 500.3 513.3L497.2 511.3Q495.9 510.4 496.7 509.0Z" fill="#ee2228" fill-opacity="0.12" stroke="#ee2228" stroke-width="1.1" stroke-linejoin="round"/>
<path d="M517.5 513.2Q518.4 511.8 518.9 512.0L519.1 512.0Q519.6 512.2 519.8 513.8L520.3 519.4Q520.5 521.0 520.1 522.6L517.7 532.0Q517.3 533.6 515.9 532.9L509.0 529.7Q507.6 529.0 508.5 527.6Z" fill="#ee2228" fill-opacity="0.12" stroke="#ee2228" stroke-width="1.1" stroke-linejoin="round"/>
<path d="M501.8 407.9Q501.8 406.3 502.7 406.0L503.0 405.9Q503.9 405.6 504.9 406.9L510.0 413.5Q511.0 414.8 510.3 416.2L507.5 421.9Q506.8 423.3 505.3 422.9L503.3 422.3Q501.8 421.9 501.8 420.3Z" fill="#f5982f" fill-opacity="0.08" stroke="#f5982f" stroke-width="1.1" stroke-linejoin="round"/>
<path d="M525.0 429.1Q525.1 427.5 526.7 427.5L527.0 427.5Q528.6 427.5 529.5 428.8L533.4 434.7Q534.3 436.0 533.2 437.1L529.0 441.2Q527.9 442.3 526.7 441.3L525.6 440.5Q524.4 439.5 524.5 437.9Z" fill="#f5982f" fill-opacity="0.08" stroke="#f5982f" stroke-width="1.1" stroke-linejoin="round"/>
<path d="M511.6 391.3Q511.1 389.8 512.5 389.1L521.7 384.2Q523.1 383.5 522.8 385.1L521.3 391.7Q521.0 393.3 519.5 393.9L514.7 395.6Q513.2 396.2 512.7 394.7Z" fill="#8a9a4b" fill-opacity="0.12" stroke="#8a9a4b" stroke-width="1.1" stroke-linejoin="round"/>
<path d="M514.4 400.7Q513.2 399.7 514.4 398.7L519.8 394.3Q521.0 393.3 522.3 394.2L523.9 395.3Q525.2 396.2 524.2 397.5L519.9 403.3Q518.9 404.6 517.7 403.6Z" fill="#8a9a4b" fill-opacity="0.12" stroke="#8a9a4b" stroke-width="1.1" stroke-linejoin="round"/>
<path d="M512.4 401.9Q511.8 400.4 513.4 400.6L525.7 402.3Q527.3 402.5 526.7 404.0L520.9 418.6Q520.3 420.1 519.7 418.6Z" fill="#000000" fill-opacity="0.08" stroke="#000000" stroke-width="1.1" stroke-linejoin="round"/>
<path d="M517.1 403.5Q516.5 402.0 518.0 402.4L527.0 405.1Q528.5 405.5 527.8 406.9L523.2 416.6Q522.5 418.0 521.9 416.5Z" fill="#000000" fill-opacity="0.08" stroke="#000000" stroke-width="1.0" stroke-linejoin="round"/>
<path d="M519.0 409.5Q518.5 408.0 520.1 408.2L526.4 409.3Q528.0 409.5 527.2 410.9L522.8 418.1Q522.0 419.5 521.5 418.0Z" fill="#000000" fill-opacity="0.08" stroke="#000000" stroke-width="1.0" stroke-linejoin="round"/>
<circle cx="451.2" cy="417.6" r="2.5" fill="#7f7f7f"/>
<circle cx="456.1" cy="432.1" r="2.5" fill="#7f7f7f"/>
<path d="M456.55 451.10Q456.55 449.18 459.10 448.00Q461.65 449.18 461.65 451.10Q461.65 453.02 459.10 454.20Q456.55 453.02 456.55 451.10Z" fill="#7f7f7f"/>
<path d="M502.85 449.40Q502.85 446.98 505.20 445.50Q507.55 446.98 507.55 449.40Q507.55 451.82 505.20 453.30Q502.85 451.82 502.85 449.40Z" fill="#7f7f7f"/>
<path d="M482.65 458.20Q482.65 456.15 485.00 454.90Q487.35 456.15 487.35 458.20Q487.35 460.25 485.00 461.50Q482.65 460.25 482.65 458.20Z" fill="#7f7f7f"/>
<circle cx="506.3" cy="479.0" r="2.5" fill="#7f7f7f"/>
<path d="M525.45 450.40Q525.45 448.23 527.90 446.90Q530.35 448.23 530.35 450.40Q530.35 452.57 527.90 453.90Q525.45 452.57 525.45 450.40Z" fill="#7f7f7f"/>
<ellipse cx="476.7" cy="451.7" rx="2.3" ry="2.9" fill="#1f4ea1" transform="rotate(20 476.7 451.7)"/>
<ellipse cx="492.6" cy="452.4" rx="2.3" ry="3.0" fill="#1f4ea1" transform="rotate(30 492.6 452.4)"/>
<circle cx="529.0" cy="393.1" r="2.4" fill="#1f4ea1"/>
<circle cx="532.3" cy="403.6" r="2.5" fill="#1f4ea1"/>
<circle cx="519.1" cy="418.3" r="2.5" fill="#1f4ea1"/>
<ellipse cx="486.3" cy="485.4" rx="2.2" ry="3.1" fill="#ee2228" transform="rotate(15 486.3 485.4)"/>
<ellipse cx="496.8" cy="482.7" rx="2.6" ry="3.2" fill="#ee2228" transform="rotate(-20 496.8 482.7)"/>
<ellipse cx="469.1" cy="505.0" rx="3.4" ry="2.6" fill="#ee2228" transform="rotate(40 469.1 505.0)"/>
<ellipse cx="499.1" cy="512.6" rx="3.2" ry="2.8" fill="#ee2228" transform="rotate(30 499.1 512.6)"/>
<path d="M483.45 422.60Q483.45 420.06 485.70 418.50Q487.95 420.06 487.95 422.60Q487.95 425.14 485.70 426.70Q483.45 425.14 483.45 422.60Z" fill="#f5982f"/>
<path d="M509.15 433.00Q509.15 430.95 511.60 429.70Q514.05 430.95 514.05 433.00Q514.05 435.05 511.60 436.30Q509.15 435.05 509.15 433.00Z" fill="#f5982f"/>
<path d="M534.65 443.30Q534.65 441.25 537.10 440.00Q539.55 441.25 539.55 443.30Q539.55 445.35 537.10 446.60Q534.65 445.35 534.65 443.30Z" fill="#f5982f"/>
<path d="M552.75 446.60Q552.75 443.81 555.00 442.10Q557.25 443.81 557.25 446.60Q557.25 449.39 555.00 451.10Q552.75 449.39 552.75 446.60Z" fill="#f5982f"/>
<circle cx="531.4" cy="457.6" r="2.5" fill="#f5982f"/>
<circle cx="503.8" cy="386.0" r="2.5" fill="#8a9a4b"/>
<path d="M544.35 387.40Q544.35 385.35 546.80 384.10Q549.25 385.35 549.25 387.40Q549.25 389.45 546.80 390.70Q544.35 389.45 544.35 387.40Z" fill="#8a9a4b" transform="rotate(20 546.8 387.4)"/>
<circle cx="530.9" cy="399.7" r="2.5" fill="#8a9a4b"/>
<circle cx="530.4" cy="408.2" r="2.5" fill="#8a9a4b"/>
<path d="M524.15 393.10Q524.15 391.30 526.60 390.20Q529.05 391.30 529.05 393.10Q529.05 394.90 526.60 396.00Q524.15 394.90 524.15 393.10Z" fill="#000000"/>
<path d="M504.55 403.20Q504.55 401.22 506.90 400.00Q509.25 401.22 509.25 403.20Q509.25 405.18 506.90 406.40Q504.55 405.18 504.55 403.20Z" fill="#000000" transform="rotate(-20 506.9 403.2)"/>
<path d="M534.75 415.20Q534.75 413.40 537.20 412.30Q539.65 413.40 539.65 415.20Q539.65 417.00 537.20 418.10Q534.75 417.00 534.75 415.20Z" fill="#000000" transform="rotate(-20 537.2 415.2)"/>
<path d="M524.85 419.40Q524.85 417.73 527.30 416.70Q529.75 417.73 529.75 419.40Q529.75 421.07 527.30 422.10Q524.85 421.07 524.85 419.40Z" fill="#000000"/>
<path d="M525.05 412.00Q525.05 410.39 527.30 409.40Q529.55 410.39 529.55 412.00Q529.55 413.61 527.30 414.60Q525.05 413.61 525.05 412.00Z" fill="#000000"/>
<circle cx="522.8" cy="406.7" r="2.5" fill="#b40fa6"/>
<circle cx="531.9" cy="429.1" r="2.5" fill="#b40fa6"/>
<circle cx="374.0" cy="433.3" r="1.85" fill="#fff" stroke="#34bdc9" stroke-width="1"/>
<circle cx="362.5" cy="448.1" r="1.85" fill="#fff" stroke="#34bdc9" stroke-width="1"/>
<circle cx="431.4" cy="306.3" r="1.85" fill="#fff" stroke="#8b3f10" stroke-width="1"/>
<circle cx="453.2" cy="315.1" r="1.85" fill="#fff" stroke="#8b3f10" stroke-width="1"/>
<circle cx="473.2" cy="333.3" r="1.85" fill="#fff" stroke="#8b3f10" stroke-width="1"/>
<circle cx="485.9" cy="332.5" r="1.85" fill="#fff" stroke="#8b3f10" stroke-width="1"/>
<circle cx="485.5" cy="446.7" r="1.85" fill="#fff" stroke="#7f7f7f" stroke-width="1"/>
<circle cx="487.4" cy="455.8" r="1.85" fill="#fff" stroke="#7f7f7f" stroke-width="1"/>
<circle cx="459.1" cy="468.8" r="1.85" fill="#fff" stroke="#ee2228" stroke-width="1"/>
<circle cx="502.6" cy="504.1" r="1.85" fill="#fff" stroke="#ee2228" stroke-width="1"/>
<circle cx="514.4" cy="525.8" r="1.85" fill="#fff" stroke="#ee2228" stroke-width="1"/>
<circle cx="505.1" cy="414.0" r="1.85" fill="#fff" stroke="#f5982f" stroke-width="1"/>
<circle cx="528.2" cy="434.8" r="1.85" fill="#fff" stroke="#f5982f" stroke-width="1"/>
<circle cx="515.8" cy="391.6" r="1.85" fill="#fff" stroke="#8a9a4b" stroke-width="1"/>
<circle cx="520.3" cy="397.3" r="1.85" fill="#fff" stroke="#8a9a4b" stroke-width="1"/>
<circle cx="519.6" cy="401.8" r="1.85" fill="#fff" stroke="#000000" stroke-width="1"/>
<circle cx="525.9" cy="409.3" r="1.85" fill="#fff" stroke="#000000" stroke-width="1"/>
<circle cx="522.8" cy="412.8" r="1.85" fill="#fff" stroke="#000000" stroke-width="1"/>
<g id="frame4">
<rect x="317.7" y="286.0" width="249.3" height="0.9" fill="#999"/>
<rect x="566.55" y="286.5" width="0.8" height="258.1" fill="#777"/>
<rect x="317.7" y="543.98" width="249.3" height="1.25" fill="#a6a6b2"/>
<rect x="318.2" y="286.5" width="1" height="258.1" fill="#979797"/>
<path d="M316.3 298.9H318.3" stroke="#111" stroke-width="1.1"/>
<text transform="translate(315.1 301.9) scale(0.885 1)" font-size="8.6" text-anchor="end" class="tk">0.6</text>
<path d="M316.3 358.4H318.3" stroke="#111" stroke-width="1.1"/>
<text transform="translate(315.1 361.4) scale(0.885 1)" font-size="8.6" text-anchor="end" class="tk">0.3</text>
<path d="M316.3 417.9H318.3" stroke="#111" stroke-width="1.1"/>
<text transform="translate(315.1 420.9) scale(0.885 1)" font-size="8.6" text-anchor="end" class="tk">0.0</text>
<path d="M316.3 477.4H318.3" stroke="#111" stroke-width="1.1"/>
<text transform="translate(315.1 480.4) scale(0.885 1)" font-size="8.6" text-anchor="end" class="tk">−0.3</text>
<path d="M316.3 536.9H318.3" stroke="#111" stroke-width="1.1"/>
<text transform="translate(315.1 539.9) scale(0.885 1)" font-size="8.6" text-anchor="end" class="tk">−0.6</text>
<path d="M318.4 544.8V547.1" stroke="#111" stroke-width="0.9"/>
<text transform="translate(318.2 553.8) scale(0.885 1)" font-size="8.6" text-anchor="middle" class="tk">−1.0</text>
<path d="M402.5 544.8V547.1" stroke="#111" stroke-width="0.9"/>
<text transform="translate(402.3 553.8) scale(0.885 1)" font-size="8.6" text-anchor="middle" class="tk">−0.5</text>
<path d="M486.7 544.8V547.1" stroke="#111" stroke-width="0.9"/>
<text transform="translate(486.5 553.8) scale(0.885 1)" font-size="8.6" text-anchor="middle" class="tk">0.0</text>
<text x="441.9" y="563.3" font-size="8.8" text-anchor="middle" class="lb">Dim 1</text>
<text transform="translate(296.9 415.2) rotate(-90)" font-size="9.2" text-anchor="middle" class="lb">Dim 2</text>
</g>
<g id="legend">
<text x="117.6" y="604.8" font-size="10.9" class="lg">Cancer type:</text>
<rect x="191.4" y="588.9" width="11.9" height="11.85" fill="#fff" stroke="#dedede" stroke-width="1.1"/>
<circle cx="197.3" cy="594.9" r="2.7" fill="#1f4ea1"/>
<text x="205.2" y="598.1" font-size="9.6" class="lg">Breast</text>
<rect x="191.4" y="600.7" width="11.9" height="11.85" fill="#fff" stroke="#dedede" stroke-width="1.1"/>
<circle cx="197.3" cy="606.7" r="2.7" fill="#8a9a4b"/>
<text x="205.2" y="609.9" font-size="9.6" class="lg">CNS</text>
<rect x="241.9" y="588.9" width="11.9" height="11.85" fill="#fff" stroke="#dedede" stroke-width="1.1"/>
<circle cx="247.8" cy="594.9" r="2.7" fill="#ee2228"/>
<text x="255.7" y="598.1" font-size="9.6" class="lg">Colon</text>
<rect x="241.9" y="600.7" width="11.9" height="11.85" fill="#fff" stroke="#dedede" stroke-width="1.1"/>
<circle cx="247.8" cy="606.7" r="2.7" fill="#34bdc9"/>
<text x="255.7" y="609.9" font-size="9.6" class="lg">Leukemia</text>
<rect x="306.0" y="588.9" width="11.9" height="11.85" fill="#fff" stroke="#dedede" stroke-width="1.1"/>
<circle cx="311.9" cy="594.9" r="2.7" fill="#7f7f7f"/>
<text x="319.8" y="598.1" font-size="9.6" class="lg">Lung</text>
<rect x="306.0" y="600.7" width="11.9" height="11.85" fill="#fff" stroke="#dedede" stroke-width="1.1"/>
<circle cx="311.9" cy="606.7" r="2.7" fill="#8b3f10"/>
<text x="319.8" y="609.9" font-size="9.6" class="lg">Melanoma</text>
<rect x="373.6" y="588.9" width="11.9" height="11.85" fill="#fff" stroke="#dedede" stroke-width="1.1"/>
<circle cx="379.6" cy="594.9" r="2.7" fill="#f5982f"/>
<text x="387.4" y="598.1" font-size="9.6" class="lg">Ovarian</text>
<rect x="373.6" y="600.7" width="11.9" height="11.85" fill="#fff" stroke="#dedede" stroke-width="1.1"/>
<circle cx="379.6" cy="606.7" r="2.7" fill="#b40fa6"/>
<text x="387.4" y="609.9" font-size="9.6" class="lg">Prostate</text>
<rect x="432.1" y="588.9" width="11.9" height="11.85" fill="#fff" stroke="#dedede" stroke-width="1.1"/>
<circle cx="438.1" cy="594.9" r="2.7" fill="#000000"/>
<text x="445.9" y="598.1" font-size="9.6" class="lg">Renal</text>
</g>
</svg>
</body>
</html>
